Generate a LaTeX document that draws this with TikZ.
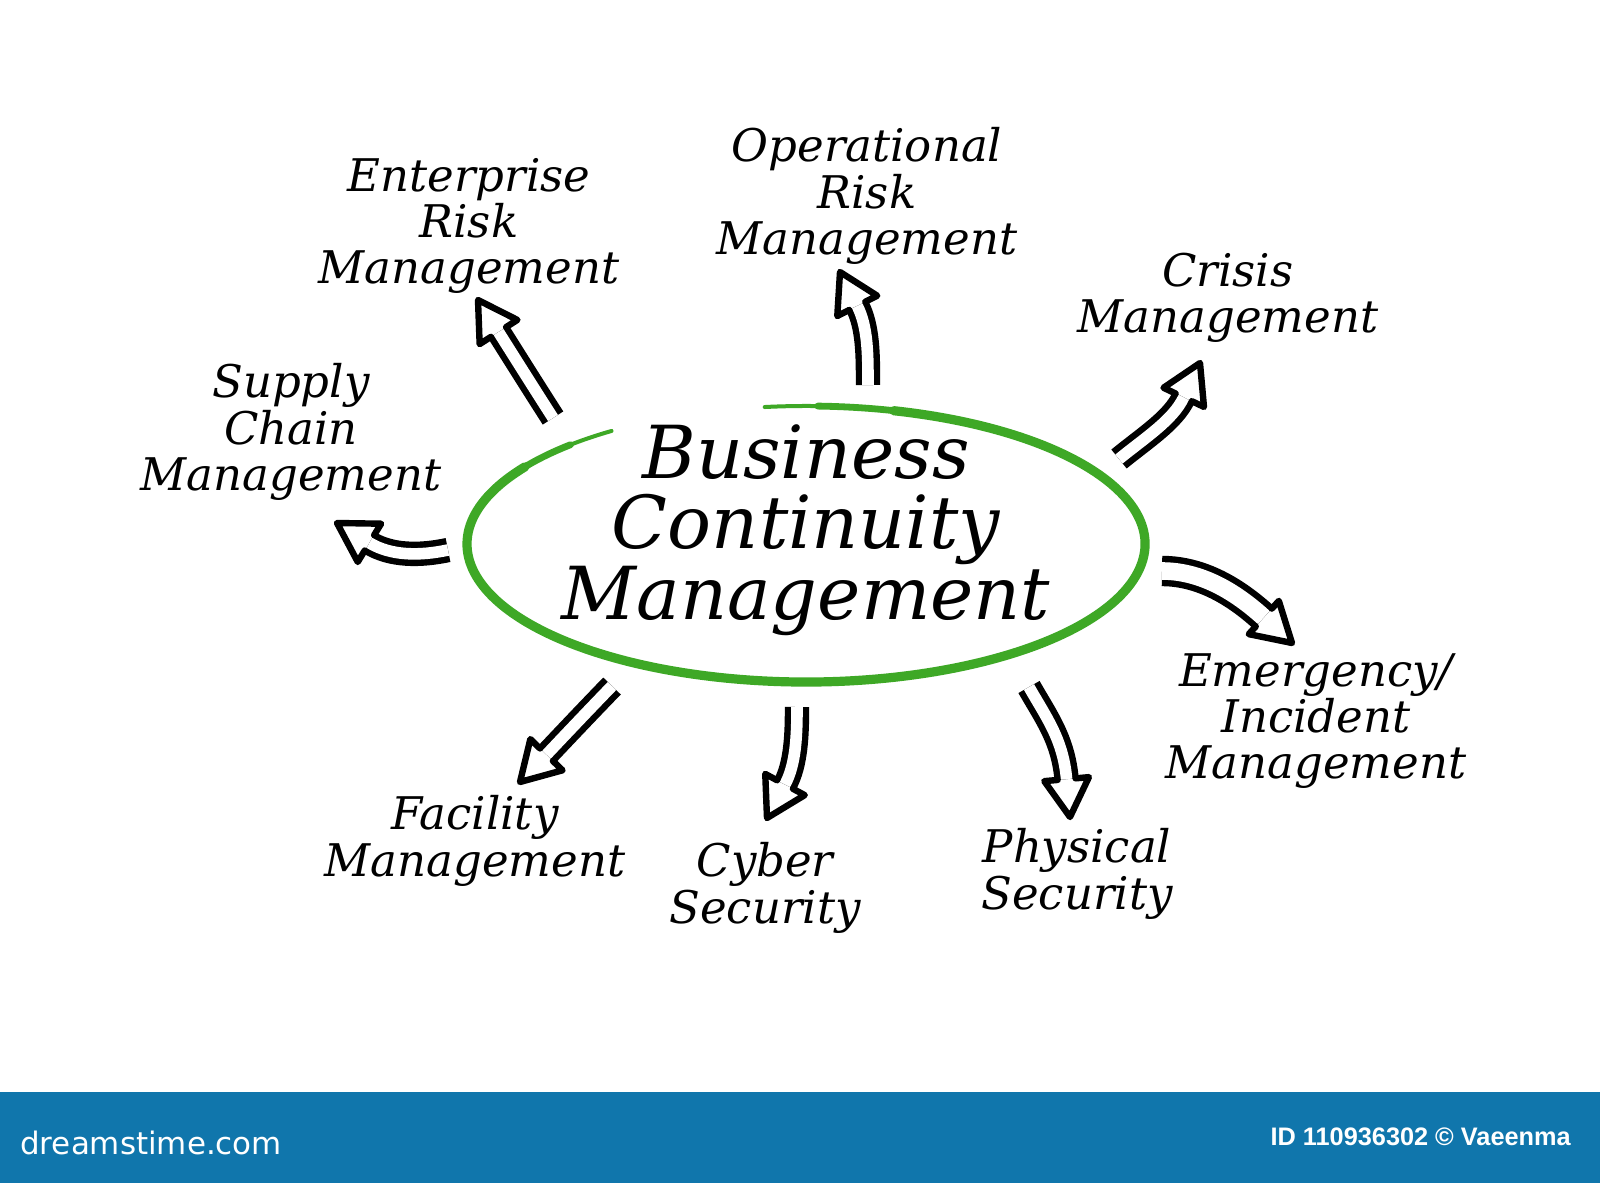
\documentclass[tikz,border=0pt]{standalone}
\usepackage{fontspec}
\setmainfont{DejaVu Serif}
\newfontfamily\barfont{Liberation Sans}
\newfontfamily\logofont{DejaVu Sans}
\usetikzlibrary{calc}
\definecolor{ringgreen}{RGB}{62,168,38}
\definecolor{barblue}{RGB}{16,118,172}
\tikzstyle{topic} = [align=center, inner sep=0pt, font=\itshape\fontsize{32}{33}\selectfont]
\tikzstyle{core} = [align=center, inner sep=0pt, font=\itshape\fontsize{52}{50}\selectfont]
\tikzstyle{shaft} = [draw=black, line width=0.16cm, double=white, double distance=0.29cm]
\tikzstyle{head} = [draw=black, line width=0.16cm, line join=round, line cap=round]
\tikzstyle{ring} = [draw=ringgreen, line cap=round]
\tikzstyle{bartext} = [text=white, inner sep=0pt]
\newcommand{\headlen}{0.95cm}
\newcommand{\headw}{0.56cm}
\newcommand{\hollowarrow}[5][0.225]{%
  \coordinate (hb) at ($(#5)!\headlen!(#4)$);
  \draw [shaft, double distance=2*#1cm-0.16cm] (#2) .. controls (#3) and (#4) .. (hb);
  \draw [head] ($(hb)!#1cm!90:(#5)$) -- ($(hb)!\headw!90:(#5)$) -- (#5) -- ($(hb)!\headw!-90:(#5)$) -- ($(hb)!#1cm!-90:(#5)$);
}

\begin{document}
\begin{tikzpicture}[x=0.025cm, y=-0.025cm]

\fill [white] (0, 0) rectangle (1600, 1183);
\useasboundingbox (0, 0) rectangle (1600, 1183);

\draw [ring, line width=0.1cm] (806, 544) ++(263:339 and 138) arc [start angle=263, end angle=595, x radius=339, y radius=138];
\draw [ring, line width=0.17cm] (806, 544) ++(272:339 and 138) arc [start angle=272, end angle=586, x radius=339, y radius=138];
\draw [ring, line width=0.23cm] (806, 544) ++(285:339 and 138) arc [start angle=285, end angle=574, x radius=339, y radius=138];

\node at (806, 530) (bcm) [core] {Business\\Continuity\\Management};

\node at (469, 226) (erm) [topic] {Enterprise\\Risk\\Management};
\node at (867, 196) (orm) [topic] {Operational\\Risk\\Management};
\node at (1228, 298) (crm) [topic] {Crisis\\Management};
\node at (291, 432) (scm) [topic] {Supply\\Chain\\Management};
\node at (1316, 721) (eim) [topic] {Emergency/\\Incident\\Management};
\node at (475, 841) (fm) [topic] {Facility\\Management};
\node at (765, 888) (cs) [topic] {Cyber\\Security};
\node at (1077, 874) (ps) [topic] {Physical\\Security};

\coordinate (ermTail) at (553, 418);
\coordinate (ermTip) at (478, 300);
\coordinate (ormTail) at (868, 385);
\coordinate (ormTip) at (840, 272);
\coordinate (crmTail) at (1119, 459);
\coordinate (crmTip) at (1200, 363);
\coordinate (scmTail) at (448, 550);
\coordinate (scmTip) at (337, 523);
\coordinate (eimTail) at (1162, 571);
\coordinate (eimTip) at (1292, 643);
\coordinate (fmTail) at (612, 686);
\coordinate (fmTip) at (520, 782);
\coordinate (csTail) at (797, 707);
\coordinate (csTip) at (767, 818);
\coordinate (psTail) at (1029, 687);
\coordinate (psTip) at (1070, 817);

\hollowarrow{ermTail}{528, 379}{503, 339}{ermTip}
\hollowarrow{ormTail}{868, 355}{868, 327}{ormTip}
\hollowarrow{crmTail}{1146, 437}{1173, 420}{crmTip}
\hollowarrow{scmTail}{420, 556}{391, 556}{scmTip}
\hollowarrow[0.3]{eimTail}{1205, 571}{1240, 596}{eimTip}
\hollowarrow{fmTail}{581, 718}{551, 750}{fmTip}
\hollowarrow{csTail}{797, 735}{796, 764}{csTip}
\hollowarrow{psTail}{1046, 717}{1063, 739}{psTip}

\fill [barblue] (0, 1092) rectangle (1600, 1183);
\node at (20, 1143) (logo) [bartext, anchor=west, font=\logofont\fontsize{22}{22}\selectfont] {dreamstime.com};
\node at (1571, 1137) (credit) [bartext, anchor=east, font=\barfont\bfseries\fontsize{18}{18}\selectfont] {ID 110936302 © Vaeenma};

\end{tikzpicture}
\end{document}
